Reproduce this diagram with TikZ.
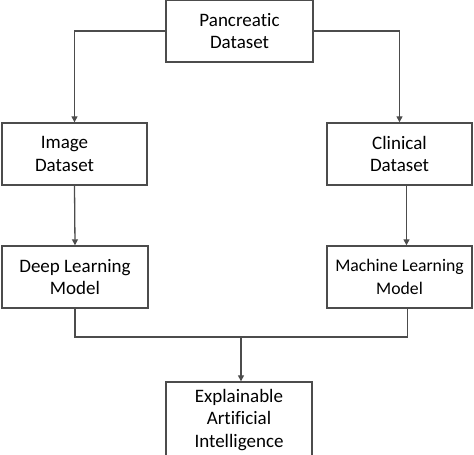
\documentclass[tikz,border=0pt]{standalone}
\usepackage{fontspec}
\setmainfont[Ligatures=CommonOff]{Carlito}
\usepackage{tikz}
\usetikzlibrary{arrows}
\usetikzlibrary{arrows.meta}
\tikzset{txt/.style = {inner sep = 0, align = center, font = \fontsize{19}{22.5}\selectfont}}
\tikzset{blk/.style = {txt, draw = lgray, line width = 1.4pt, minimum width = 146pt, minimum height = 62pt}}
\tikzset{conn/.style = {draw = lgray, line width = 1.3pt}}
\tikzset{arr/.style = {conn, -{Triangle[length = 6pt, width = 6pt]}}}
\definecolor{lgray}{rgb}{0.3, 0.3, 0.3}

\begin{document}
\begin{tikzpicture}[x=1pt, y=-1pt]
    \useasboundingbox (0, 0) rectangle (474, 455);

    \node [blk, minimum width = 147pt] (pancr) at (239.5, 31) {Pancreatic\\Dataset};
    \node [blk, minimum width = 145pt] (img) at (74.5, 154) {};
    \node [txt] (imgtxt) at ([xshift=-10pt]img.center) {Image\\Dataset};
    \node [blk, minimum width = 145pt] (clin) at (399.5, 154) {Clinical\\Dataset};
    \node [blk] (deep) at (75, 277) {Deep Learning\\Model};
    \node [blk, minimum width = 145pt, font = \fontsize{17.7}{22.5}\selectfont] (mach) at (399.5, 277) {Machine Learning\\Model};
    \node [blk, minimum height = 76pt] (xai) at (239, 420) {Explainable\\Artificial\\Intelligence};

    \draw [arr] (pancr.west) -| (img.north);
    \draw [arr] (pancr.east) -| (clin.north);
    \draw [arr] (img.south) -- (deep.north);
    \draw [arr] ([xshift=7pt]clin.south) -- ([xshift=7pt]mach.north);

    \coordinate (join) at (241, 337);
    \draw [conn] (deep.south) |- (join) -| ([xshift=8pt]mach.south);
    \draw [arr] (join) -- (join |- xai.north);
\end{tikzpicture}
\end{document}
